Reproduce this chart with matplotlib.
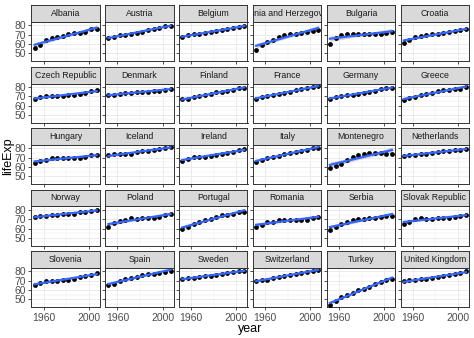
import numpy as np
import matplotlib.pyplot as plt

plt.rcParams['font.family'] = ['Liberation Sans', 'DejaVu Sans']

# gapminder Europe, life expectancy by year
years = np.array([1952, 1957, 1962, 1967, 1972, 1977, 1982, 1987, 1992, 1997, 2002, 2007])

countries = ['Albania', 'Austria', 'Belgium', 'Bosnia and Herzegovina', 'Bulgaria', 'Croatia',
             'Czech Republic', 'Denmark', 'Finland', 'France', 'Germany', 'Greece',
             'Hungary', 'Iceland', 'Ireland', 'Italy', 'Montenegro', 'Netherlands',
             'Norway', 'Poland', 'Portugal', 'Romania', 'Serbia', 'Slovak Republic',
             'Slovenia', 'Spain', 'Sweden', 'Switzerland', 'Turkey', 'United Kingdom']

life_exp = [
    [55.2, 59.3, 64.8, 66.2, 67.7, 68.9, 70.4, 72.0, 71.6, 73.0, 75.7, 76.4],
    [66.8, 67.5, 69.5, 70.1, 70.6, 72.2, 73.2, 74.9, 76.0, 77.5, 79.0, 79.8],
    [68.0, 69.2, 70.3, 70.9, 71.4, 72.8, 73.9, 75.4, 76.5, 77.5, 78.3, 79.4],
    [53.8, 58.5, 61.9, 64.8, 67.5, 69.9, 70.7, 71.1, 72.2, 73.2, 74.1, 74.9],
    [59.6, 66.6, 69.5, 70.4, 70.9, 70.8, 71.1, 71.3, 71.2, 70.3, 72.1, 73.0],
    [61.2, 64.8, 67.1, 68.5, 69.6, 70.6, 70.5, 71.5, 72.5, 73.7, 74.9, 75.7],
    [66.9, 69.0, 69.9, 70.4, 70.3, 70.7, 71.0, 71.6, 72.4, 74.0, 75.5, 76.5],
    [70.8, 71.8, 72.4, 73.0, 73.5, 74.7, 74.6, 74.8, 75.3, 76.1, 77.2, 78.3],
    [66.6, 67.5, 68.8, 69.8, 70.9, 72.5, 74.6, 74.8, 75.7, 77.1, 78.4, 79.3],
    [67.4, 68.9, 70.5, 71.6, 72.4, 73.8, 74.9, 76.3, 77.5, 78.6, 79.6, 80.7],
    [67.5, 69.1, 70.3, 70.8, 71.0, 72.5, 73.8, 74.8, 76.1, 77.3, 78.7, 79.4],
    [65.9, 67.9, 69.5, 71.0, 72.3, 73.7, 75.2, 76.7, 77.0, 77.9, 78.3, 79.5],
    [64.0, 66.4, 68.0, 69.5, 69.8, 70.0, 69.4, 69.6, 69.2, 71.0, 72.6, 73.3],
    [72.5, 73.5, 73.7, 73.7, 74.5, 76.1, 77.0, 77.2, 78.8, 79.0, 80.5, 81.8],
    [66.9, 68.9, 70.3, 71.1, 71.3, 72.0, 73.1, 74.4, 75.5, 76.1, 77.8, 78.9],
    [65.9, 67.8, 69.2, 71.1, 72.2, 73.5, 75.0, 76.4, 77.4, 78.8, 80.2, 80.5],
    [59.2, 61.4, 63.7, 67.2, 70.6, 73.1, 74.1, 74.9, 75.4, 75.4, 74.0, 74.5],
    [72.1, 73.0, 73.2, 73.8, 73.8, 75.2, 76.1, 76.8, 77.4, 78.0, 78.5, 79.8],
    [72.7, 73.4, 73.5, 74.1, 74.3, 75.4, 76.0, 75.9, 77.3, 78.3, 79.1, 80.2],
    [61.3, 65.8, 67.6, 69.6, 70.9, 70.7, 71.3, 71.0, 71.0, 72.8, 74.7, 75.6],
    [59.8, 61.5, 64.4, 66.6, 69.3, 70.4, 72.8, 74.1, 74.9, 76.0, 77.3, 78.1],
    [61.1, 64.1, 66.8, 66.8, 69.2, 69.5, 69.7, 69.5, 69.4, 69.7, 71.3, 72.5],
    [58.0, 61.7, 64.5, 66.9, 68.7, 70.3, 70.2, 71.2, 71.7, 72.2, 73.2, 74.0],
    [64.4, 67.5, 70.3, 71.0, 70.4, 70.5, 70.8, 71.1, 71.4, 72.7, 73.8, 74.7],
    [65.6, 67.9, 69.2, 69.2, 69.8, 71.0, 71.1, 72.3, 73.6, 75.1, 76.7, 77.9],
    [64.9, 66.7, 69.7, 71.4, 73.1, 74.4, 76.3, 76.9, 77.6, 78.8, 79.8, 80.9],
    [71.9, 72.5, 73.4, 74.2, 74.7, 75.4, 76.4, 77.2, 78.2, 79.4, 80.0, 80.9],
    [69.6, 70.6, 71.3, 72.8, 73.8, 75.4, 76.2, 77.4, 78.0, 79.4, 80.6, 81.7],
    [43.6, 48.1, 52.1, 54.3, 57.0, 59.5, 61.0, 63.1, 66.1, 68.8, 70.8, 71.8],
    [69.2, 70.4, 70.8, 71.4, 72.0, 72.8, 74.0, 75.0, 76.4, 77.2, 78.5, 80.0],
]

x_breaks = [1960, 2000]
y_breaks = [50, 60, 70, 80]

W, H = 474, 338
fig = plt.figure(figsize=(W / 100, H / 100), dpi=100)

left, right = 31.5, 469
gap_x = 5.5
pw = (right - left - 5 * gap_x) / 6
strip_h = 17
panel_h = 39
row_step = 61.5
top0 = 5

allv = np.concatenate([np.array(v) for v in life_exp])
ymin, ymax = allv.min(), allv.max()
yr = ymax - ymin
ylim = (ymin - 0.05 * yr, ymax + 0.05 * yr)
xr = years.max() - years.min()
xlim = (years.min() - 0.05 * xr, years.max() + 0.05 * xr)

t975 = 2.228  # t quantile, df = 10
xs = np.linspace(years.min(), years.max(), 80)

for k, (name, vals) in enumerate(zip(countries, life_exp)):
    r, c = divmod(k, 6)
    x0 = left + c * (pw + gap_x)
    ytop = top0 + r * row_step
    # panel
    ax = fig.add_axes([x0 / W, 1 - (ytop + strip_h + panel_h) / H, pw / W, panel_h / H])
    ax.set_facecolor('white')
    ax.set_xlim(xlim)
    ax.set_ylim(ylim)
    ax.set_xticks(x_breaks)
    ax.set_xticks([1980], minor=True)
    ax.set_yticks(y_breaks)
    ax.set_yticks([45, 55, 65, 75], minor=True)
    ax.grid(True, which='major', color='#EBEBEB', lw=0.7)
    ax.grid(True, which='minor', color='#EBEBEB', lw=0.35)
    ax.set_axisbelow(True)
    for s in ax.spines.values():
        s.set_color('#333333')
        s.set_linewidth(0.7)
    ax.tick_params(which='major', length=2.5, width=0.6, color='#333333',
                   labelsize=7.5, labelcolor='#4D4D4D', pad=1.5)
    ax.tick_params(which='minor', length=0)
    if c != 0:
        ax.tick_params(axis='y', labelleft=False)
    if r != 4:
        ax.tick_params(axis='x', labelbottom=False)

    v = np.array(vals)
    # linear fit with 95% confidence band
    b, a = np.polyfit(years, v, 1)
    fit = a + b * xs
    resid = v - (a + b * years)
    s = np.sqrt(np.sum(resid ** 2) / (len(v) - 2))
    xm = years.mean()
    se = s * np.sqrt(1 / len(v) + (xs - xm) ** 2 / np.sum((years - xm) ** 2))
    ax.fill_between(xs, fit - t975 * se, fit + t975 * se, color='#999999', alpha=0.4, lw=0)
    ax.scatter(years, v, s=12, color='black', zorder=3, lw=0)
    ax.plot(xs, fit, color='#3366FF', lw=1.6, zorder=4)

    # strip
    sax = fig.add_axes([x0 / W, 1 - (ytop + strip_h) / H, pw / W, strip_h / H])
    sax.set_facecolor('#D9D9D9')
    sax.set_xticks([])
    sax.set_yticks([])
    for sp in sax.spines.values():
        sp.set_color('#333333')
        sp.set_linewidth(0.7)
    sax.text(0.5, 0.5, name, ha='center', va='center', fontsize=6.3,
             color='#1A1A1A', transform=sax.transAxes, clip_on=True)

fig.text((left + right) / 2 / W, 1 - 329 / H, 'year', ha='center', va='center', fontsize=9)
fig.text(8 / W, 1 - 156 / H, 'lifeExp', ha='center', va='center', rotation=90, fontsize=9)

fig.savefig('out.png', dpi=100)
